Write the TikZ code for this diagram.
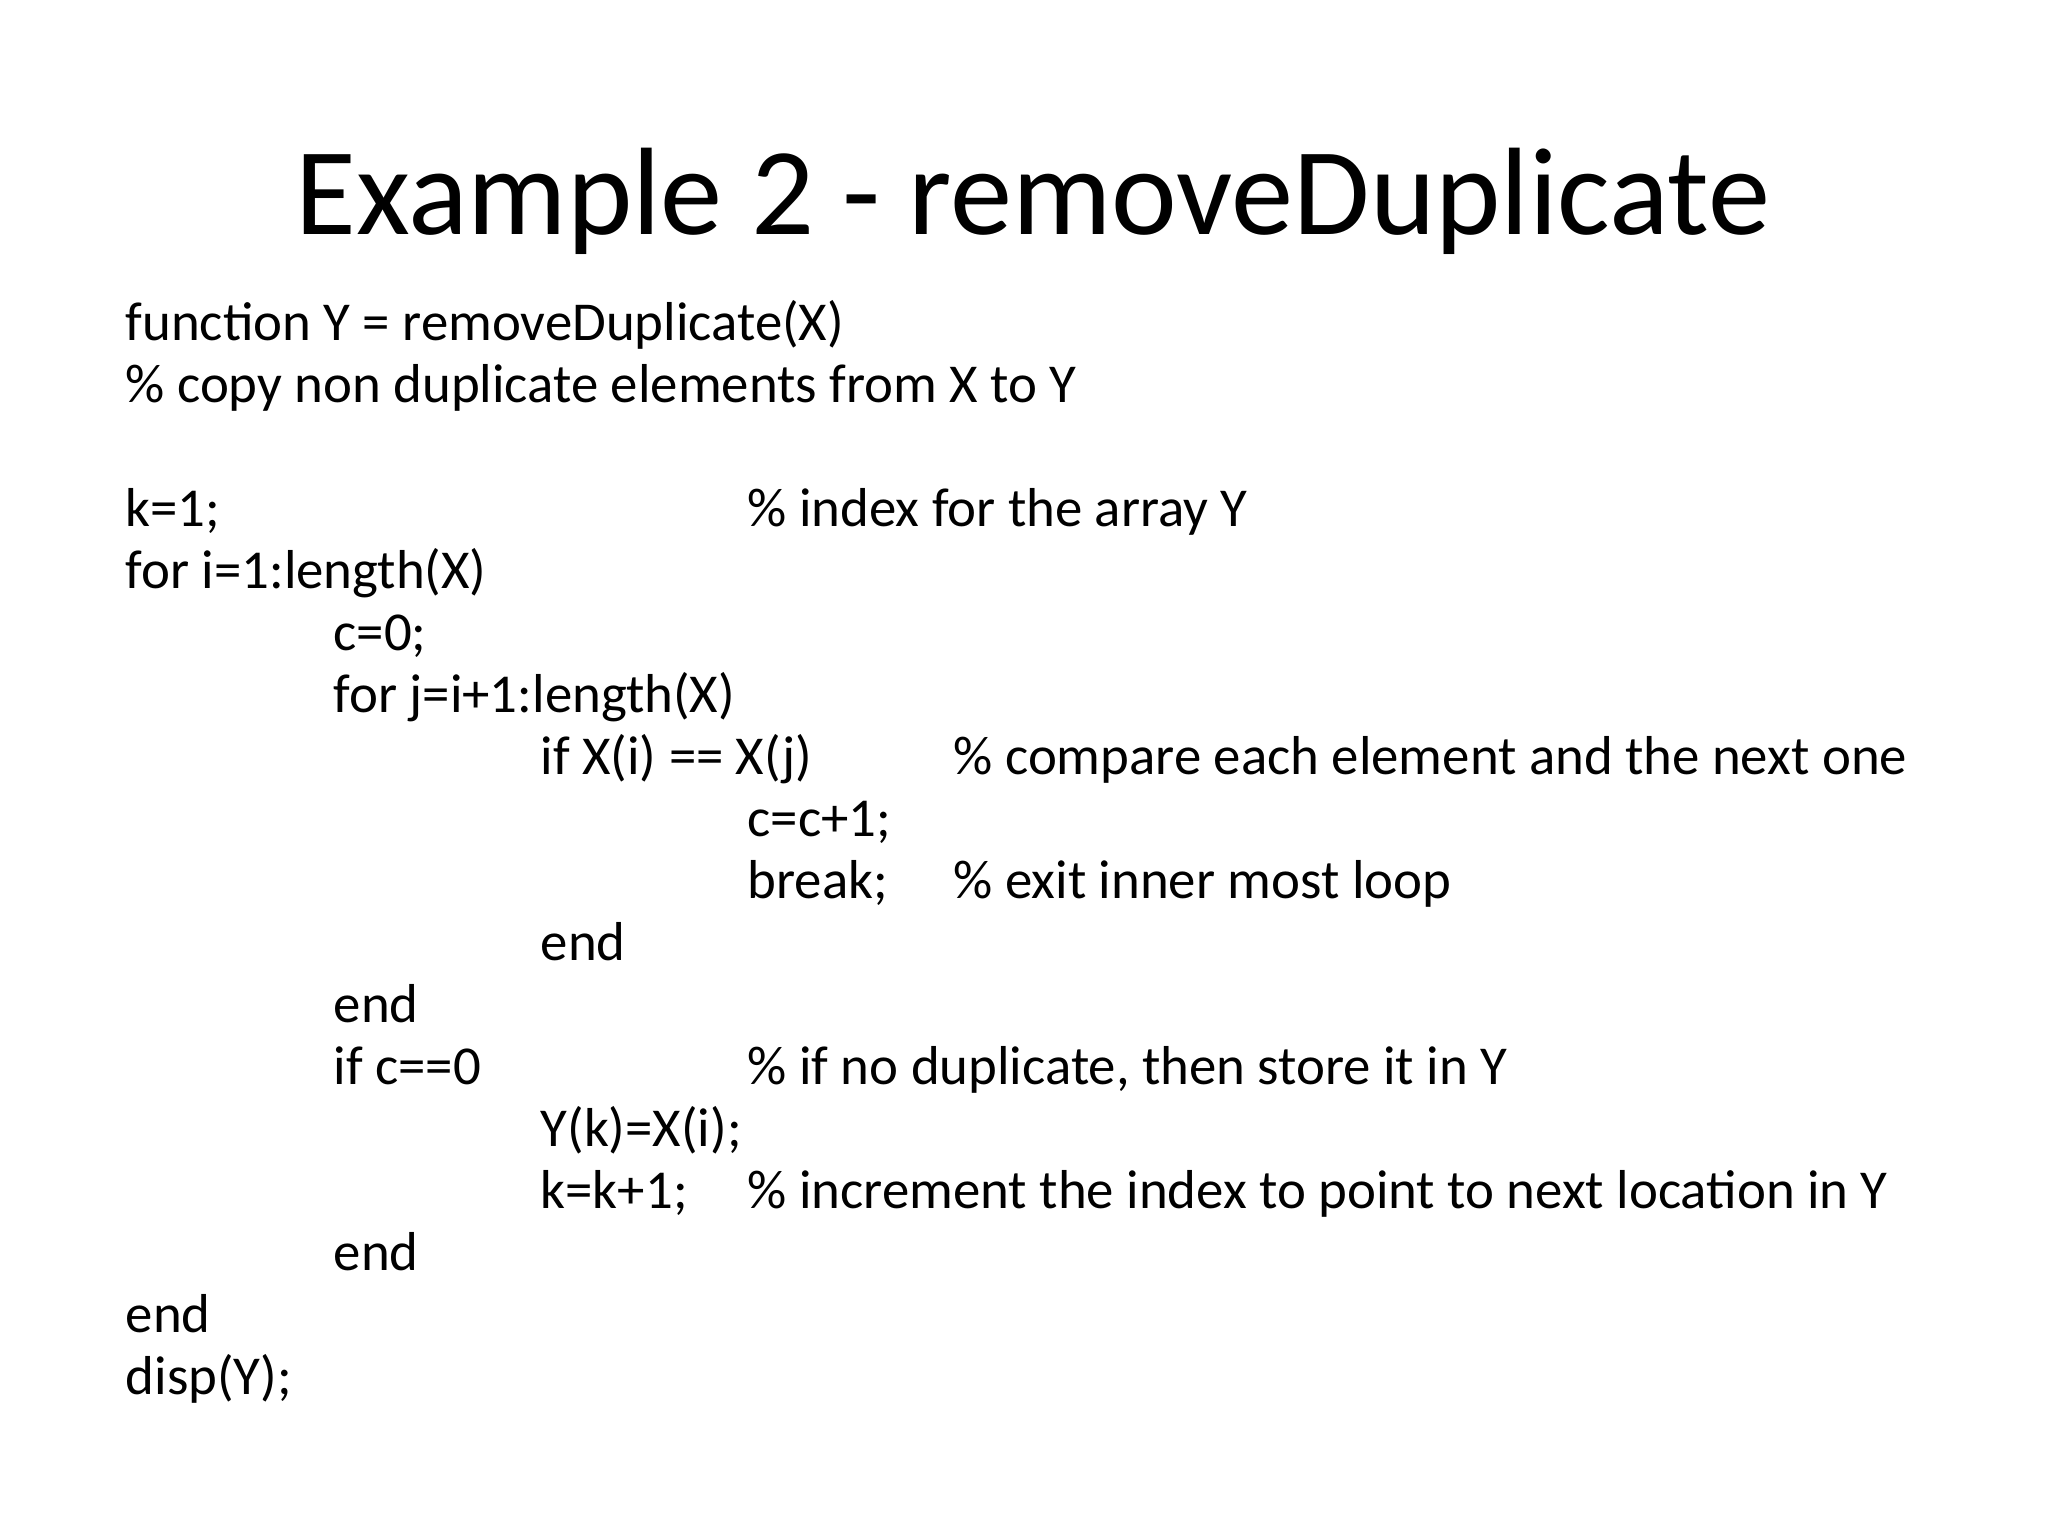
\documentclass[tikz,border=0pt]{standalone}
\usepackage{fontspec}
\setmainfont{Carlito}
\begin{document}
\begin{tikzpicture}[x=1cm,y=-1cm,
  code/.style={anchor=base west,inner sep=0pt,font=\fontsize{15.6pt}{18pt}\selectfont},
  ttl/.style={anchor=base,inner sep=0pt,font=\fontsize{35.4pt}{40pt}\selectfont}]
\useasboundingbox (0,0) rectangle (20.48,15.36);
\def\L#1{(3.405+0.6203*#1)}
\node[ttl] (title) at (10.33,2.35) {Example 2 - removeDuplicate};
\node[code] (l0) at (1.25,3.405) {function Y = removeDuplicate(X)};
\node[code] (l1) at (1.25,4.025) {\% copy non duplicate elements from X to Y};
\node[code] (l3) at (1.25,5.266) {k=1;};
\node[code] (c3) at (7.47,5.266) {\% index for the array Y};
\node[code] (l4) at (1.25,5.886) {for i=1:length(X)};
\node[code] (l5) at (3.33,6.506) {c=0;};
\node[code] (l6) at (3.33,7.126) {for j=i+1:length(X)};
\node[code] (l7) at (5.40,7.746) {if X(i) == X(j)};
\node[code] (c7) at (9.53,7.746) {\% compare each element and the next one};
\node[code] (l8) at (7.47,8.366) {c=c+1;};
\node[code] (l9) at (7.47,8.987) {break;};
\node[code] (c9) at (9.53,8.987) {\% exit inner most loop};
\node[code] (l10) at (5.40,9.607) {end};
\node[code] (l11) at (3.33,10.227) {end};
\node[code] (l12) at (3.33,10.847) {if c==0};
\node[code] (c12) at (7.47,10.847) {\% if no duplicate, then store it in Y};
\node[code] (l13) at (5.40,11.467) {Y(k)=X(i);};
\node[code] (l14) at (5.40,12.088) {k=k+1;};
\node[code] (c14) at (7.47,12.088) {\% increment the index to point to next location in Y};
\node[code] (l15) at (3.33,12.708) {end};
\node[code] (l16) at (1.25,13.328) {end};
\node[code] (l17) at (1.25,13.948) {disp(Y);};
\end{tikzpicture}
\end{document}
